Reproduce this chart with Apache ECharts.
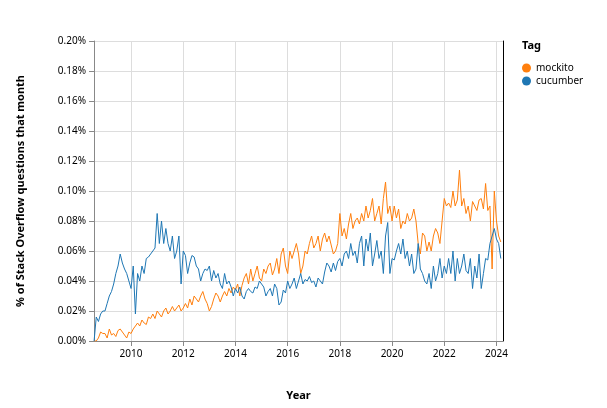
<!DOCTYPE html>
<html><head><meta charset="utf-8">
<script src="https://cdn.jsdelivr.net/npm/echarts@6/dist/echarts.min.js"></script>
<style>html,body{margin:0;padding:0;background:#fff}#c{width:607px;height:408px}</style>
</head><body><div id="c"></div>
<script>
const startYear = 2008, startMonth = 8;
const mockito = [
0,0,0.002,0.006,0.005,
0.005,0.002,0.008,0.004,0.005,0.003,0.007,0.008,0.006,0.004,0.002,0.006,
0.005,0.008,0.010,0.012,0.010,0.014,0.012,0.011,0.016,0.015,0.018,0.015,
0.020,0.018,0.016,0.020,0.022,0.018,0.020,0.023,0.020,0.022,0.024,0.020,
0.022,0.025,0.022,0.028,0.024,0.030,0.028,0.026,0.030,0.033,0.028,0.025,
0.020,0.023,0.028,0.032,0.030,0.026,0.030,0.033,0.030,0.035,0.032,0.036,
0.034,0.038,0.030,0.037,0.042,0.045,0.038,0.048,0.040,0.045,0.050,0.042,
0.040,0.048,0.045,0.050,0.052,0.044,0.048,0.055,0.045,0.058,0.062,0.050,
0.045,0.060,0.055,0.060,0.065,0.058,0.045,0.050,0.060,0.058,0.065,0.070,
0.062,0.065,0.070,0.060,0.068,0.072,0.066,0.070,0.064,0.058,0.060,0.065,
0.085,0.070,0.075,0.068,0.078,0.085,0.075,0.080,0.082,0.078,0.085,0.080,
0.090,0.082,0.087,0.095,0.080,0.085,0.090,0.078,0.095,0.106,0.085,0.090,
0.080,0.090,0.082,0.088,0.075,0.080,0.078,0.085,0.080,0.082,0.088,0.080,
0.065,0.058,0.072,0.070,0.060,0.066,0.060,0.070,0.075,0.072,0.065,0.080,
0.095,0.090,0.092,0.089,0.100,0.090,0.094,0.114,0.090,0.095,0.085,0.090,
0.080,0.093,0.090,0.087,0.094,0.095,0.088,0.105,0.087,0.090,0.048,0.100,
0.080,0.070,0.066
];
const cucumber = [
0,0.016,0.013,0.018,0.020,
0.020,0.025,0.030,0.033,0.038,0.045,0.050,0.058,0.052,0.048,0.045,0.040,
0.035,0.050,0.018,0.045,0.040,0.050,0.045,0.055,0.056,0.058,0.060,0.062,
0.085,0.065,0.080,0.065,0.075,0.065,0.060,0.070,0.055,0.060,0.070,0.038,
0.060,0.057,0.045,0.052,0.057,0.056,0.050,0.048,0.040,0.045,0.048,0.047,
0.050,0.040,0.047,0.042,0.045,0.038,0.035,0.045,0.038,0.040,0.036,0.030,
0.035,0.032,0.036,0.030,0.028,0.033,0.035,0.033,0.032,0.036,0.035,0.040,
0.038,0.036,0.030,0.033,0.035,0.030,0.038,0.035,0.024,0.026,0.034,0.032,
0.040,0.035,0.038,0.042,0.035,0.040,0.045,0.038,0.041,0.040,0.043,0.039,
0.040,0.036,0.042,0.040,0.038,0.046,0.052,0.050,0.046,0.052,0.047,0.053,
0.055,0.050,0.058,0.060,0.055,0.065,0.057,0.060,0.052,0.065,0.070,0.050,
0.068,0.060,0.072,0.050,0.058,0.067,0.055,0.060,0.045,0.070,0.079,0.045,
0.055,0.054,0.060,0.065,0.058,0.068,0.055,0.060,0.050,0.058,0.045,0.048,
0.065,0.048,0.045,0.040,0.038,0.045,0.035,0.050,0.040,0.045,0.055,0.042,
0.050,0.045,0.055,0.045,0.060,0.040,0.055,0.045,0.050,0.058,0.047,0.045,
0.055,0.035,0.050,0.042,0.058,0.035,0.045,0.055,0.054,0.065,0.070,0.075,
0.068,0.065,0.055
];
const yearTicks = [2010,2012,2014,2016,2018,2020,2022,2024];
const tagNames = ['mockito','cucumber'];
const toPts = arr => arr.map((v,i)=>[startYear + (startMonth-1+i)/12, v]);
const font = 'Noto Sans';
const chart = echarts.init(document.getElementById('c'));
chart.setOption({
  animation:false,
  textStyle:{fontFamily:font},
  grid:{left:94,right:104,top:41,bottom:67},
  legend:{data:tagNames, orient:'vertical', left:517, top:58, icon:'circle', itemWidth:9, itemHeight:9, itemGap:3,
    textStyle:{fontSize:10,color:'#000',fontFamily:font}},
  graphic:[{type:'text', left:522, top:40, style:{text:'Tag', font:'bold 11px "Noto Sans"', fill:'#000'}}],
  xAxis:{type:'value', min:2008.58, max:2024.25, name:'Year', nameLocation:'middle', nameGap:49,
    nameTextStyle:{fontWeight:'bold',fontSize:11,color:'#000'},
    axisLine:{lineStyle:{color:'#888'}}, axisTick:{customValues:yearTicks,length:5,lineStyle:{color:'#888'}},
    axisLabel:{customValues:yearTicks, fontSize:10, color:'#000', formatter:v=>String(Math.round(v))},
    splitLine:{show:true,lineStyle:{color:'#ddd'}}},
  yAxis:[{type:'value', min:0, max:0.2, interval:0.02, name:'% of Stack Overflow questions that month',
    nameLocation:'middle', nameGap:68, nameTextStyle:{fontWeight:'bold',fontSize:11,color:'#000'},
    axisLine:{show:true,lineStyle:{color:'#888'}}, axisTick:{show:true,length:5,lineStyle:{color:'#888'}},
    axisLabel:{fontSize:10,color:'#000',formatter:v=>v.toFixed(2)+'%'},
    splitLine:{lineStyle:{color:'#ddd'}}},
   {type:'value', position:'right', min:0, max:0.2, axisLine:{show:true,lineStyle:{color:'#000'}},
    axisTick:{show:false}, axisLabel:{show:false}, splitLine:{show:false}}],
  series:[
    {name:'mockito', type:'line', data:toPts(mockito), showSymbol:false, lineStyle:{width:1,color:'#ff7f0e'}, itemStyle:{color:'#ff7f0e'}},
    {name:'cucumber', type:'line', data:toPts(cucumber), showSymbol:false, lineStyle:{width:1,color:'#1f77b4'}, itemStyle:{color:'#1f77b4'}}
  ]
});
</script></body></html>
